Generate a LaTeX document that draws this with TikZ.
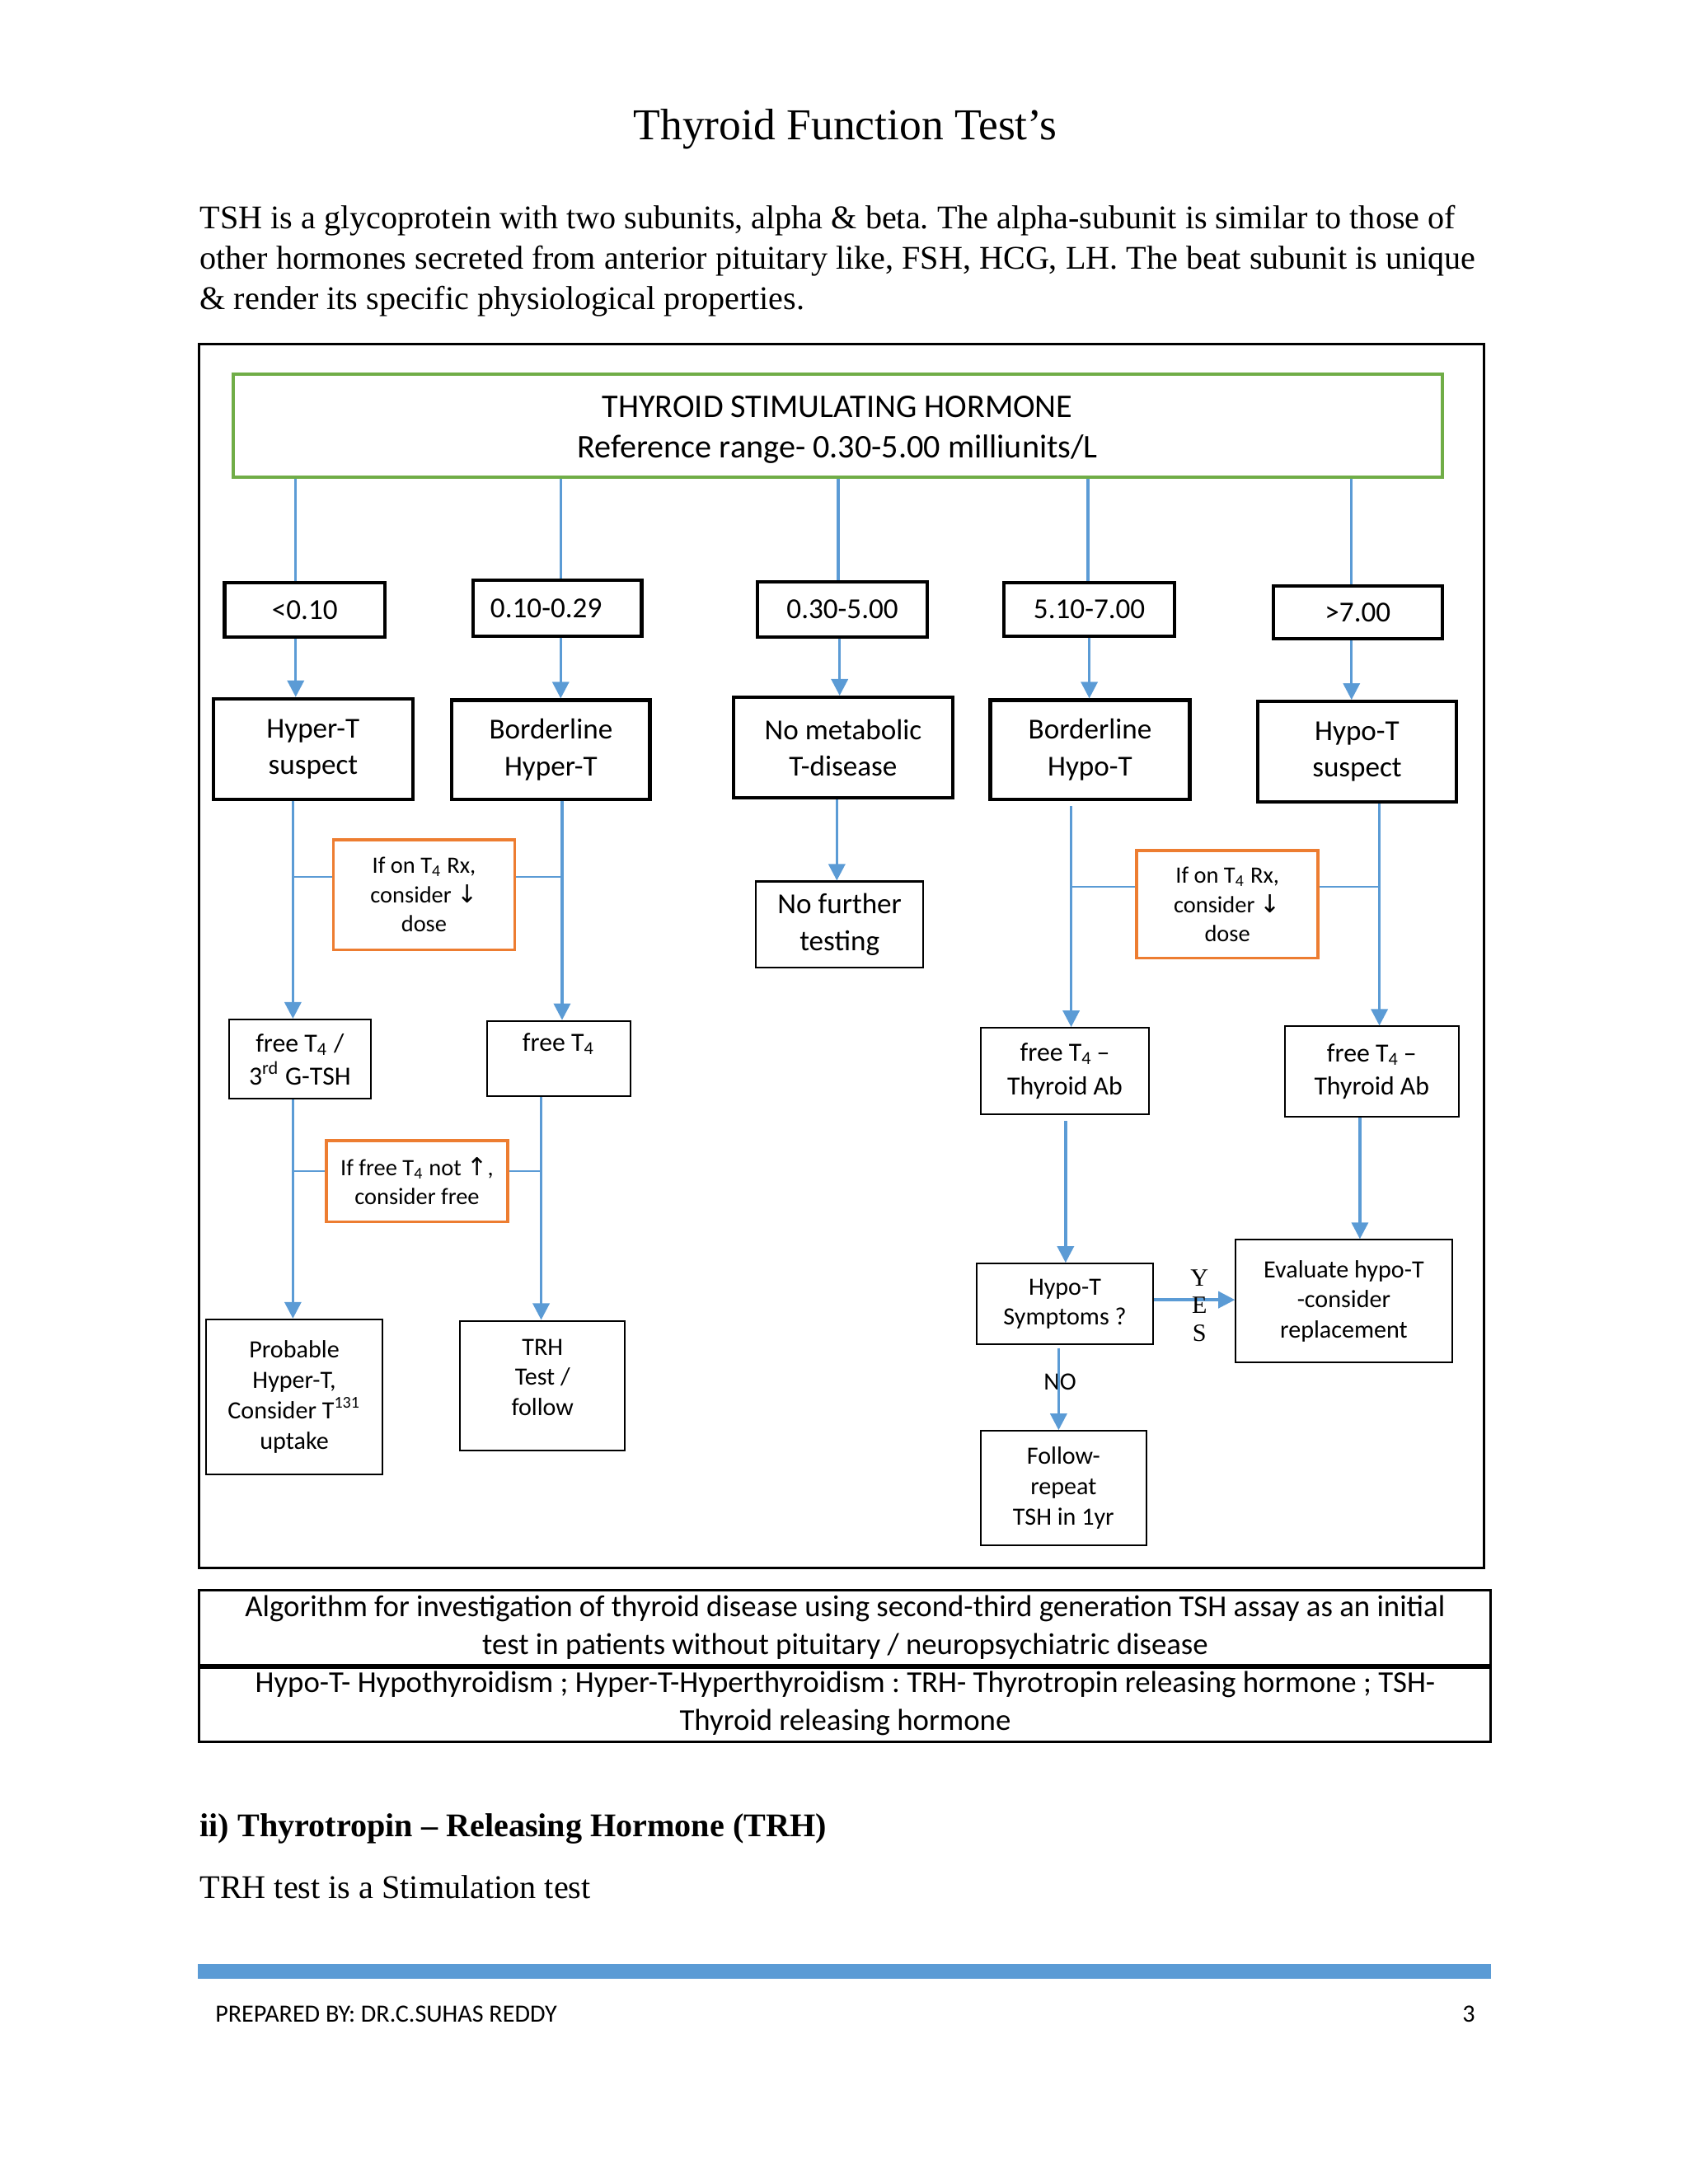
\documentclass[tikz,border=0pt]{standalone}
\usepackage{fontspec}
\setmainfont{Liberation Serif}
\newfontfamily\calib{Carlito}
\newfontfamily\arrowfont{DejaVu Sans}
\usetikzlibrary{arrows.meta}
\definecolor{blu}{HTML}{5B9BD5}
\definecolor{grn}{HTML}{70AD47}
\definecolor{orng}{HTML}{ED7D31}
\newcommand{\fs}[2]{\fontsize{#1}{#2}\selectfont}
% #1 style, #2 name, #3 x1, #4 y1, #5 x2, #6 y2, #7 text
\newcommand{\bx}[7]{%
  \pgfmathsetmacro\bxw{(#5-#3)*0.505785}%
  \pgfmathsetmacro\bxh{(#6-#4)*0.505785}%
  \pgfmathsetmacro\bxcx{(#3+#5)/2}%
  \pgfmathsetmacro\bxcy{(#4+#6)/2}%
  \node[#1, minimum width=\bxw pt, minimum height=\bxh pt] (#2) at (\bxcx,\bxcy) {#7};}
\frenchspacing
\begin{document}
\begin{tikzpicture}[x=0.505785pt,y=-0.505785pt,
  tk/.style={draw=black, line width=1.25pt, inner sep=0pt, align=center, font=\calib\fs{10.5}{13.2}},
  tn/.style={draw=black, line width=0.6pt, inner sep=0pt, align=center, font=\calib\fs{9}{11}},
  tm/.style={tn, font=\calib\fs{9.5}{12}},
  ob/.style={draw=orng, line width=1.1pt, inner sep=0pt, align=center, font=\calib\fs{8.5}{10.6}},
  bl/.style={draw=blu, line width=1pt, -{Triangle[length=6pt,width=6pt]}},
  bn/.style={draw=blu, line width=1pt},
  bt/.style={draw=blu, line width=0.6pt},
  txt/.style={inner sep=0pt}]
\useasboundingbox (0,0) rectangle (1210,1566);

% page text
\node[txt, anchor=base, font=\fs{16}{19}] (title) at (606,100) {Thyroid Function Test’s};
\node[txt, anchor=base west, font=\fs{12}{14}] (par1) at (143,164) {TSH is a glycoprotein with two subunits, alpha \& beta. The alpha-subunit is similar to those of};
\node[txt, anchor=base west, font=\fs{12}{14}] (par2) at (143,193) {other hormones secreted from anterior pituitary like, FSH, HCG, LH. The beat subunit is unique};
\node[txt, anchor=base west, font=\fs{12}{14}] (par3) at (143,222) {\& render its specific physiological properties.};

% frame
\bx{draw=black, line width=0.9pt, inner sep=0pt}{frame}{143}{247}{1064}{1124}{}

% TSH box
\bx{draw=grn, line width=1.2pt, inner sep=0pt, align=center, font=\calib\fs{12}{14.7}}{tsh}{167}{268}{1034}{342}{\rule{0pt}{11pt}THYROID STIMULATING HORMONE\\Reference range- 0.30-5.00 milliunits/L}

% range boxes
\bx{tk}{r1}{161}{418}{276}{457}{<0.10}
\bx{tk}{r2}{339}{416}{460}{456}{\mbox{0.10-0.29\kern 8pt}}
\bx{tk}{r3}{543}{417}{665}{457}{0.30-5.00}
\bx{tk}{r4}{720}{418}{842}{456}{5.10-7.00}
\bx{tk}{r5}{913}{420}{1034}{458}{>7.00}

% second row
\bx{tk}{s1}{153}{501}{296}{573}{Hyper-T\\suspect}
\bx{tk}{s2}{324}{502}{466}{573}{Borderline\\Hyper-T}
\bx{tk}{s3}{526}{500}{683}{572}{No metabolic\\T-disease}
\bx{tk}{s4}{710}{502}{853}{573}{Borderline\\Hypo-T}
\bx{tk}{s5}{902}{503}{1044}{575}{Hypo-T\\suspect}

% third row
\bx{tm}{f1}{164}{731}{266}{788}{free T\textsubscript{4} /\\3\textsuperscript{rd} G-TSH}
\bx{tm}{f2}{349}{732}{452}{786}{free T\textsubscript{4}\\\mbox{}}
\bx{tn, font=\calib\fs{10.5}{13.6}}{nf}{542}{632}{662}{694}{No further\\testing}
\bx{tm}{f4}{703}{737}{824}{799}{free T\textsubscript{4}\,–\\Thyroid Ab}
\bx{tm}{f5}{921}{736}{1046}{801}{free T\textsubscript{4}\,–\\Thyroid Ab}

% orange notes
\bx{ob}{o1}{239}{602}{369}{681}{If on T\textsubscript{4} Rx,\\consider {\arrowfont\fs{9}{10}↓}\\dose}
\bx{ob}{o2}{815}{610}{945}{687}{If on T\textsubscript{4} Rx,\\consider {\arrowfont\fs{9}{10}↓}\\dose}
\bx{ob}{o3}{234}{818}{364}{876}{If free T\textsubscript{4} not {\arrowfont\fs{9}{10}↑},\\consider free}

% fourth row
\bx{tn}{pr}{148}{946}{274}{1057}{Probable\\Hyper-T,\\Consider T\textsuperscript{131}\\uptake}
\bx{tn}{trh}{330}{947}{448}{1040}{TRH\\Test /\\follow\\[-5pt]\mbox{}}
\bx{tn}{sym}{700}{906}{827}{964}{Hypo-T\\Symptoms ?}
\bx{tn}{ev}{886}{889}{1041}{977}{Evaluate hypo-T\\-consider\\replacement}
\bx{tn}{fol}{703}{1026}{822}{1108}{Follow-\\repeat\\TSH in 1yr}

% branch x positions
\coordinate (a1) at (212,0); \coordinate (a2) at (402,0); \coordinate (a3) at (601,0);
\coordinate (a4) at (780,0); \coordinate (a5) at (969,0);
\draw[bn] (a1 |- tsh.south) -- (a1 |- r1.north);
\draw[bn] (a2 |- tsh.south) -- (a2 |- r2.north);
\draw[bn] (a3 |- tsh.south) -- (a3 |- r3.north);
\draw[bn] (a4 |- tsh.south) -- (a4 |- r4.north);
\draw[bn] (a5 |- tsh.south) -- (a5 |- r5.north);

\coordinate (b1) at (212,0); \coordinate (b2) at (402,0); \coordinate (b3) at (602,0);
\coordinate (b4) at (781,0); \coordinate (b5) at (969,0);
\draw[bl] (b1 |- r1.south) -- (b1 |- s1.north);
\draw[bl] (b2 |- r2.south) -- (b2 |- s2.north);
\draw[bl] (b3 |- r3.south) -- (b3 |- s3.north);
\draw[bl] (b4 |- r4.south) -- (b4 |- s4.north);
\draw[bl] (b5 |- r5.south) -- (b5 |- s5.north);

\coordinate (c1) at (210,0); \coordinate (c2) at (403,0); \coordinate (c3) at (600,0);
\coordinate (c4) at (768,0); \coordinate (c5) at (989,0);
\draw[bl] (c1 |- s1.south) -- (c1 |- f1.north);
\draw[bl] (c2 |- s2.south) -- (c2 |- f2.north);
\draw[bl] (c3 |- s3.south) -- (c3 |- nf.north);
\draw[bl] ([yshift=-2pt]c4 |- s4.south) -- (c4 |- f4.north);
\draw[bl] (c5 |- s5.south) -- (c5 |- f5.north);

% note connectors
\coordinate (j1) at (210,629); \coordinate (j2) at (403,629);
\draw[bt] (j1) -- (j1 -| o1.west);
\draw[bt] (o1.east |- j2) -- (j2);
\coordinate (j3) at (768,636); \coordinate (j4) at (989,636);
\draw[bt] (j3) -- (j3 -| o2.west);
\draw[bt] (o2.east |- j4) -- (j4);

\coordinate (d1) at (210,0); \coordinate (d2) at (388,0); \coordinate (d4) at (764,0); \coordinate (d5) at (975,0);
\draw[bl] (d1 |- f1.south) -- (d1 |- pr.north);
\draw[bl] (d2 |- f2.south) -- (d2 |- trh.north);
\draw[bl] ([yshift=-2pt]d4 |- f4.south) -- (d4 |- sym.north);
\draw[bl] (d5 |- f5.south) -- (d5 |- ev.north);

\coordinate (j5) at (210,840); \coordinate (j6) at (388,840);
\draw[bt] (j5) -- (j5 -| o3.west);
\draw[bt] (o3.east |- j6) -- (j6);

% yes / no
\coordinate (y0) at (0,932);
\draw[bl] (sym.east |- y0) -- (ev.west |- y0);
\node[txt, align=center, font=\fs{9}{10}] (yes) at (860,936) {Y\\E\\S};
\coordinate (n0) at (759,0);
\node[txt, font=\calib\fs{9}{11}] (no) at (760,991) {NO};
\draw[bl] ([yshift=-1pt]n0 |- sym.south) -- (n0 |- fol.north);

% caption boxes
\bx{draw=black, line width=0.9pt, inner sep=0pt, align=center, font=\calib\fs{11}{13.7}}{cap1}{143}{1140}{1069}{1194}{Algorithm for investigation of thyroid disease using second-third generation TSH assay as an initial\\test in patients without pituitary / neuropsychiatric disease}
\bx{draw=black, line width=0.9pt, inner sep=0pt, align=center, font=\calib\fs{11}{13.7}}{cap2}{143}{1194}{1069}{1249}{Hypo-T- Hypothyroidism ; Hyper-T-Hyperthyroidism : TRH- Thyrotropin releasing hormone ; TSH-\\Thyroid releasing hormone}
\draw[line width=1.6pt] (cap1.south west) -- (cap1.south east);

% lower text
\node[txt, anchor=base west, font=\bfseries\fs{12}{14}] (head) at (143,1317) {ii) Thyrotropin – Releasing Hormone (TRH)};
\node[txt, anchor=base west, font=\fs{12}{14}] (trhtxt) at (143,1361) {TRH test is a Stimulation test};

% footer
\fill[blu] (142,1408) rectangle (1069,1419);
\node[txt, anchor=base west, font=\calib\fs{9}{10}] (prep) at (154,1450) {PREPARED BY: DR.C.SUHAS REDDY};
\node[txt, anchor=base, font=\calib\fs{9}{10}] (pg) at (1053,1450) {3};
\end{tikzpicture}
\end{document}
